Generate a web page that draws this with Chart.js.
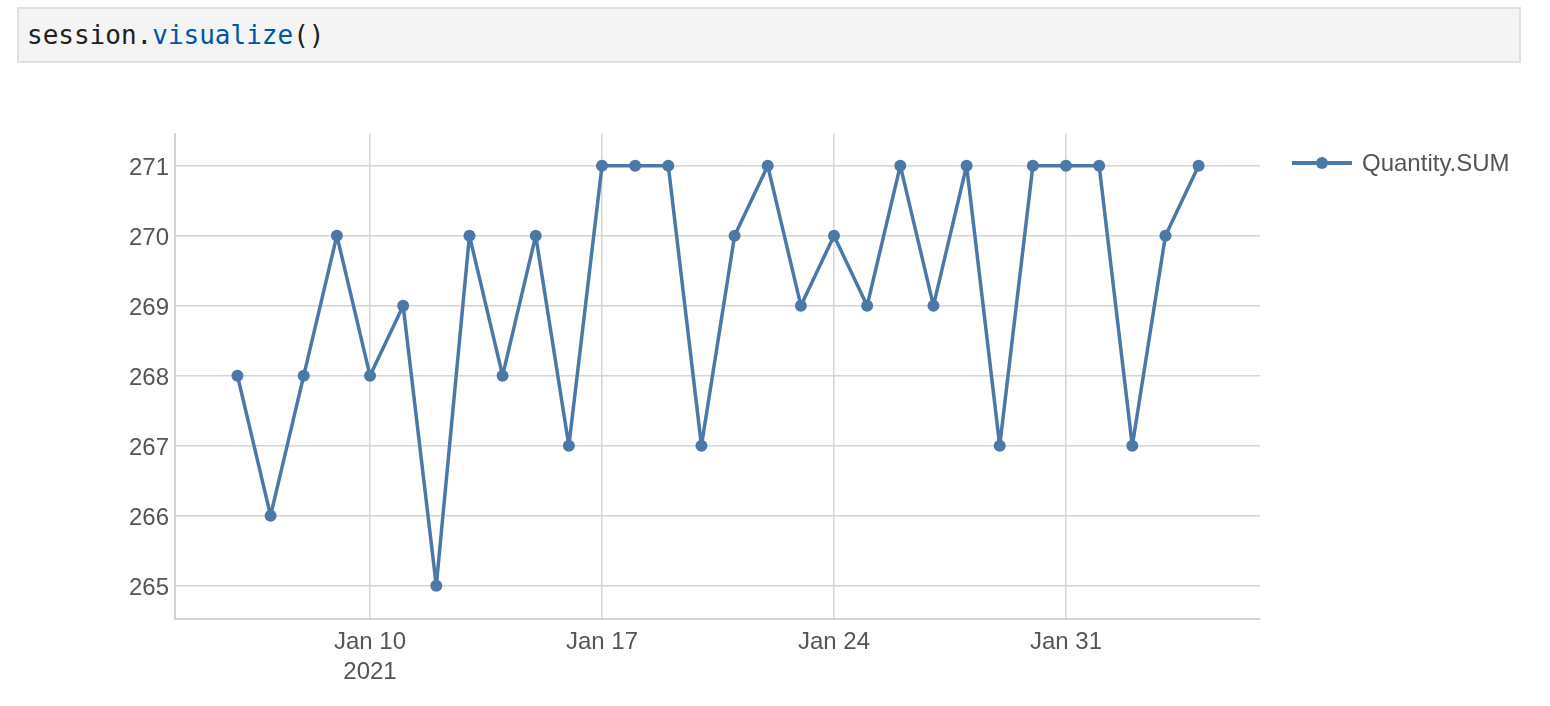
<!DOCTYPE html>
<html>
<head>
<meta charset="utf-8">
<script src="https://cdn.jsdelivr.net/npm/chart.js@4/dist/chart.umd.min.js"></script>
<style>
  body { margin: 0; background: #fff; width: 1550px; height: 706px; overflow: hidden; position: relative; }
  .cell {
    position: absolute; left: 17px; top: 7px; width: 1492px; height: 52px;
    background: #f4f4f4; border: 2px solid #e0e0e0;
    font-family: "DejaVu Sans Mono", monospace; font-size: 26px; color: #212121;
    line-height: 52px; padding-left: 8px; box-sizing: content-box;
  }
  .cell .fn { color: #0055aa; }
  #wrap { position: absolute; left: 0; top: 80px; width: 1550px; height: 626px; }
</style>
</head>
<body>
<div class="cell">session.<span class="fn">visualize</span>()</div>
<div id="wrap"><canvas id="grafico"></canvas></div>
<script>
var fechas = ['2021-01-06','2021-01-07','2021-01-08','2021-01-09','2021-01-10','2021-01-11','2021-01-12',
  '2021-01-13','2021-01-14','2021-01-15','2021-01-16','2021-01-17','2021-01-18','2021-01-19','2021-01-20',
  '2021-01-21','2021-01-22','2021-01-23','2021-01-24','2021-01-25','2021-01-26','2021-01-27','2021-01-28',
  '2021-01-29','2021-01-30','2021-01-31','2021-02-01','2021-02-02','2021-02-03','2021-02-04'];
var cantidad = [268,266,268,270,268,269,265,270,268,270,267,271,271,271,267,
  270,271,269,270,269,271,269,271,267,271,271,271,267,270,271];
var xTicks = ['2021-01-10','2021-01-17','2021-01-24','2021-01-31'];
var xTickLabels = [['Jan 10','2021'], 'Jan 17', 'Jan 24', 'Jan 31'];
var yTicks = [265,266,267,268,269,270,271];
var serieNombre = 'Quantity.SUM';

var color = '#4c78a8';
var gris = '#555555';

// dias desde el 1 de enero de 2021
function dia(s) {
  return (new Date(s + 'T00:00:00Z') - new Date('2021-01-01T00:00:00Z')) / 864e5;
}

var puntos = fechas.map(function(f, i) { return { x: dia(f), y: cantidad[i] }; });
var tickDias = xTicks.map(dia);

var leyenda = {
  id: 'leyenda',
  afterDraw: function(chart) {
    var ctx = chart.ctx;
    var y = 83;
    ctx.save();
    ctx.strokeStyle = color;
    ctx.lineWidth = 4;
    ctx.beginPath();
    ctx.moveTo(1292, y);
    ctx.lineTo(1352, y);
    ctx.stroke();
    ctx.fillStyle = color;
    ctx.beginPath();
    ctx.arc(1322, y, 6, 0, Math.PI * 2);
    ctx.fill();
    ctx.fillStyle = gris;
    ctx.font = '24px "Liberation Sans", Arial, sans-serif';
    ctx.textBaseline = 'middle';
    ctx.fillText(chart.data.datasets[0].label, 1362, y + 1);
    ctx.restore();
  }
};

var ctx = document.getElementById('grafico').getContext('2d');
var myChart = new Chart(ctx, {
  type: 'line',
  data: {
    datasets: [{
      label: serieNombre,
      data: puntos,
      borderColor: color,
      backgroundColor: color,
      borderWidth: 3.5,
      borderJoinStyle: 'round',
      pointRadius: 6,
      pointHoverRadius: 6,
      pointBorderWidth: 0,
      fill: false,
      tension: 0
    }]
  },
  options: {
    responsive: true,
    maintainAspectRatio: false,
    animation: false,
    layout: { padding: { top: 54, right: 290, left: 0, bottom: 0 } },
    plugins: {
      legend: { display: false },
      tooltip: { enabled: false }
    },
    scales: {
      x: {
        type: 'linear',
        min: 3.116,
        max: 35.853,
        afterBuildTicks: function(scale) {
          scale.ticks = tickDias.map(function(v) { return { value: v }; });
        },
        afterFit: function(scale) { scale.height = 87; },
        grid: { color: '#d4d4d4', lineWidth: 1.5, drawTicks: false },
        border: { color: '#d4d4d4', width: 2 },
        ticks: {
          color: gris,
          padding: 8,
          maxRotation: 0,
          autoSkip: false,
          font: { family: '"Liberation Sans", Arial, sans-serif', size: 24, lineHeight: 1.27 },
          callback: function(v) {
            var i = tickDias.indexOf(v);
            return i >= 0 ? xTickLabels[i] : '';
          }
        }
      },
      y: {
        min: 264.524,
        max: 271.453,
        afterBuildTicks: function(scale) {
          scale.ticks = yTicks.map(function(v) { return { value: v }; });
        },
        afterFit: function(scale) { scale.width = 175; },
        grid: { color: '#d4d4d4', lineWidth: 1.5, drawTicks: false },
        border: { color: '#d4d4d4', width: 2 },
        ticks: {
          color: gris,
          padding: 6,
          font: { family: '"Liberation Sans", Arial, sans-serif', size: 24, lineHeight: 0.2 },
          // linea vacia arriba para bajar la etiqueta un poco
          callback: function(v) { return ['', String(v)]; }
        }
      }
    }
  },
  plugins: [leyenda]
});
</script>
</body>
</html>
